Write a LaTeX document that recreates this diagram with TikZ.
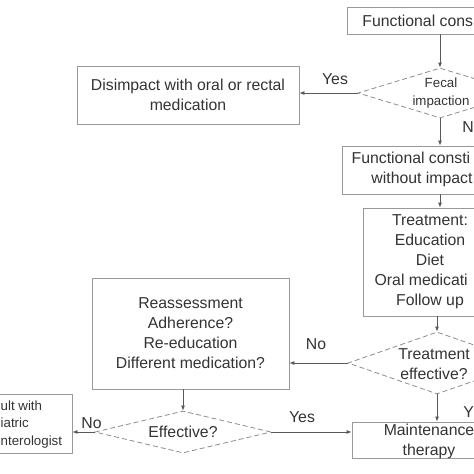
\documentclass[tikz,border=0pt]{standalone}
\usepackage{fontspec}
\setmainfont{Liberation Sans}
\usetikzlibrary{shapes.geometric,arrows.meta}
\begin{document}
\begin{tikzpicture}[x=1pt,y=-1pt,line width=0.8pt,>={Latex[length=5pt,width=4pt]},
    every node/.style={font=\fontsize{15.8pt}{20pt}\selectfont,text=black!80,inner sep=0pt,align=center},
    small/.style={font=\fontsize{13.3pt}{17.5pt}\selectfont},
    box/.style={draw=black!40},
    dia/.style={diamond,draw=black!45,dash pattern=on 5pt off 3pt},
    arr/.style={->,draw=black!65}]
    \clip(0,0)rectangle(474,474);
    % boxes
    \node[box,minimum width=186pt,minimum height=27pt](fc)at(440,20.5){};
    \node[anchor=west](fct)at(362,21){Functional cons};
    \node[box,minimum width=222pt,minimum height=58pt](dis)at(188,95){Disimpact with oral or rectal\\medication};
    \node[box,minimum width=178pt,minimum height=48pt](fcw)at(431,170){};
    \node(fcwt)at(432.5,169){Functional consti\phantom{pation}\\without impact\phantom{ion}};
    \node[box,minimum width=134pt,minimum height=108pt](tr)at(430,262){Treatment:\\Education\\Diet\\Oral medicati\phantom{on}\\Follow up};
    \node[box,minimum width=197pt,minimum height=111pt](ra)at(190.5,333.5){Reassessment\\Adherence?\\Re-education\\Different medication?};
    \node[box,minimum width=142pt,minimum height=59pt](cg)at(1,423.5){};
    \node[small,anchor=west,align=left](cgt)at(0.3,424.5){ult with\\iatric\\nterologist};
    \node[box,minimum width=160pt,minimum height=36pt](mt)at(432,440){};
    \node(mtt)at(429,441){Maintenance\\therapy};
    % decisions
    \node[dia,minimum width=164pt,minimum height=50pt](fi)at(440,93){};
    \node[small](fit)at(441,93){Fecal\\impaction};
    \node[dia,minimum width=178pt,minimum height=62pt](te)at(437,363){};
    \node(tet)at(434,364){Treatment\\effective?};
    \node[dia,minimum width=176pt,minimum height=42pt](ef)at(183,432){};
    \node(eft)at(ef){Effective?};
    % arrows
    \draw[arr](fc)--(fi);
    \draw[arr](fi.west)--(fi.west-|dis.east);
    \draw[arr](fi.south)--(fi.south|-fcw.north);
    \draw[arr](fcw.south-|fi)--(tr.north-|fi);
    \draw[arr](tr.south-|te)--(te.north);
    \draw[arr](te.west)--(te.west-|ra.east);
    \draw[arr](ra.south-|ef)--(ef.north);
    \draw[arr](ef.west)--(ef.west-|cg.east);
    \draw[arr](ef.east)--(ef.east-|mt.west);
    \draw[arr](te.south)--(te.south|-mt.north);
    % labels
    \node(y1)at(335,79){Yes};
    \node[anchor=west](n1)at(462,127){N};
    \node(n2)at(316,344){No};
    \node(n3)at(91.5,423){No};
    \node(y2)at(302,417){Yes};
    \node[anchor=west](y3)at(463,412){Y};
\end{tikzpicture}
\end{document}
